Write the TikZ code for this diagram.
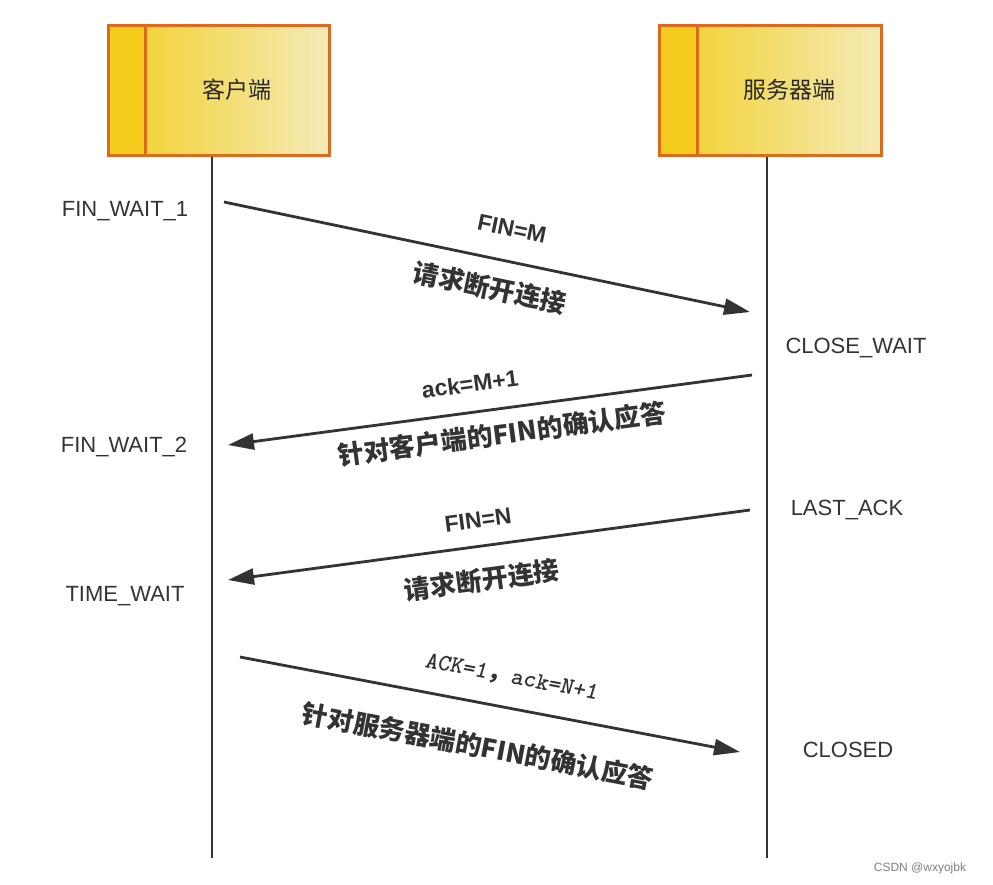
\documentclass[tikz,border=0pt]{standalone}
\usepackage{fontspec}
\setmainfont{Liberation Sans}
\newfontfamily\cjk{Noto Sans CJK SC}
\usetikzlibrary{arrows.meta}
\definecolor{boxedge}{HTML}{DE6A1E}
\definecolor{stripc}{HTML}{F4CC1C}
\definecolor{gradl}{HTML}{F3D43C}
\definecolor{gradr}{HTML}{F4EAB8}
\definecolor{txt}{HTML}{333333}
\begin{document}
\begin{tikzpicture}[x=1pt,y=-1pt,
  msg/.style={line width=2.8pt,draw=txt,-{Triangle[length=26pt,width=16pt]}},
  state/.style={font=\fontsize{22}{22}\selectfont,text=txt},
  lbl/.style={font=\fontsize{23}{23}\selectfont\bfseries,text=txt},
  clbl/.style={font=\cjk\fontsize{26}{26}\selectfont\bfseries,text=txt},
  life/.style={line width=2.5pt,draw=txt}]
\useasboundingbox (0,0) rectangle (993,884);
\fill[white] (0,0) rectangle (993,884);
\foreach \n/\xa/\xb/\xc/\t in {c/108/145/329/客户端, s/659/697/881/服务器端}{
  \shade[left color=gradl,right color=gradr] (\xb,25) rectangle (\xc,155);
  \fill[stripc] (\xa,25) rectangle (\xb,155);
  \draw[boxedge,line width=3pt] (\xa,25) rectangle (\xc,155);
  \draw[boxedge,line width=3pt] (\xb,25) -- (\xb,155);
  \node[font=\cjk\fontsize{23}{23}\selectfont,text=txt!80!black] (\n box) at ({(\xb+\xc)/2},90) {\t};
}
\coordinate (cb) at (212,157); \coordinate (ce) at (212,858);
\coordinate (sb) at (767,157); \coordinate (se) at (767,858);
\draw[life] (cb) -- (ce);
\draw[life] (sb) -- (se);
\node[state] (fw1) at (125,211) {FIN\_WAIT\_1};
\node[state] (cw) at (856,348) {CLOSE\_WAIT};
\node[state] (fw2) at (124,447) {FIN\_WAIT\_2};
\node[state] (la) at (847,510) {LAST\_ACK};
\node[state] (tw) at (125,596) {TIME\_WAIT};
\node[state] (cl) at (848,750) {CLOSED};
\coordinate (a1s) at (224,202); \coordinate (a1e) at (750,312);
\coordinate (a2s) at (752,375); \coordinate (a2e) at (228,445);
\coordinate (a3s) at (750,510); \coordinate (a3e) at (228,580);
\coordinate (a4s) at (240,657); \coordinate (a4e) at (740,752);
\draw[msg] (a1s) -- (a1e);
\draw[msg] (a2s) -- (a2e);
\draw[msg] (a3s) -- (a3e);
\draw[msg] (a4s) -- (a4e);
\node[lbl,rotate=-11.8] (l1) at (512,229) {FIN=M};
\node[clbl,rotate=-11.8] (l1b) at (490,288) {请求断开连接};
\node[lbl,rotate=7.6] (l2) at (470,384) {ack=M+1};
\node[clbl,rotate=7.6] (l2b) at (502,434) {针对客户端的FIN的确认应答};
\node[lbl,rotate=7.6] (l3) at (478,520) {FIN=N};
\node[clbl,rotate=7.6] (l3b) at (482,580) {请求断开连接};
\node[font=\ttfamily\fontsize{24}{24}\selectfont\bfseries,text=txt,rotate=-10.8,xslant=0.1] (l4) at (512,678) {ACK=1{\cjk ，}ack=N+1};
\node[clbl,rotate=-10.8] (l4b) at (478,746) {针对服务器端的FIN的确认应答};
\node[font=\fontsize{12}{12}\selectfont,text=gray] (wm) at (920,868) {CSDN @wxyojbk};
\end{tikzpicture}
\end{document}
